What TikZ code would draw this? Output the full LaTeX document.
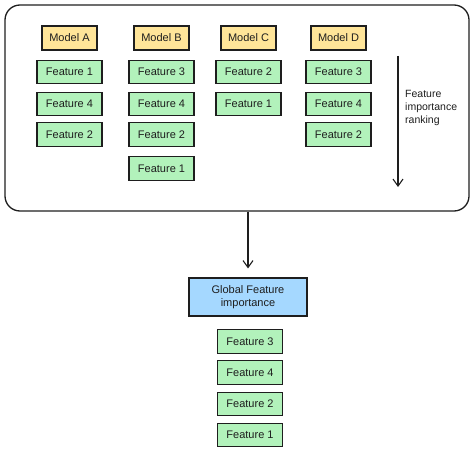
\documentclass[tikz,border=0pt]{standalone}
\usepackage{fontspec}
\setmainfont{Liberation Sans}
\usetikzlibrary{arrows.meta}
\definecolor{ink}{HTML}{1E1E1E}
\definecolor{yel}{HTML}{FFE599}
\definecolor{grn}{HTML}{B2F2BB}
\definecolor{blu}{HTML}{A5D8FF}
\tikzset{
  box/.style={draw=ink, line width=1.1pt, inner sep=0pt, font=\fontsize{11}{12.5}\selectfont, text=ink},
  model/.style={box, fill=yel, minimum width=55pt, minimum height=24pt},
  feat/.style={box, fill=grn, minimum width=65pt, minimum height=23.5pt},
  glob/.style={box, fill=blu, minimum width=118pt, minimum height=38pt, align=center},
  arr/.style={draw=ink, line width=1.1pt, -{Straight Barb[length=7pt,width=10pt,line width=1.1pt]}},
}
\begin{document}
\begin{tikzpicture}[x=1pt,y=-1pt]
\useasboundingbox (0,0) rectangle (474,452);
\node[draw=ink, line width=1.3pt, rounded corners=15pt, minimum width=464pt, minimum height=206pt, inner sep=0pt] (outer) at (237,108) {};
% column A
\node[model] (mA) at (69.5,38) {Model A};
\node[feat] (a1) at (69.5,72) {Feature 1};
\node[feat] (a2) at (69.5,104) {Feature 4};
\node[feat] (a3) at (69.5,134.5) {Feature 2};
% column B
\node[model] (mB) at (161.5,38) {Model B};
\node[feat] (b1) at (161.5,72) {Feature 3};
\node[feat] (b2) at (161.5,104) {Feature 4};
\node[feat] (b3) at (161.5,134.5) {Feature 2};
\node[feat] (b4) at (161.5,168.5) {Feature 1};
% column C
\node[model] (mC) at (248.5,38) {Model C};
\node[feat] (c1) at (248.5,72) {Feature 2};
\node[feat] (c2) at (248.5,104) {Feature 1};
% column D
\node[model] (mD) at (338.5,38) {Model D};
\node[feat] (d1) at (338.5,72) {Feature 3};
\node[feat] (d2) at (338.5,104) {Feature 4};
\node[feat] (d3) at (338.5,134.5) {Feature 2};
% ranking arrow
\coordinate (rtop) at (398,56);
\coordinate (rbot) at (398,187);
\draw[arr] (rtop) -- (rbot);
\node[anchor=west, align=left, inner sep=0pt, font=\fontsize{10.5}{13}\selectfont, text=ink] (rank) at (405,107.5) {Feature\\importance\\ranking};
% global
\node[glob] (g) at (248,297) {Global Feature\\importance};
\draw[arr, shorten >=9pt] (outer.south -| g.north) -- (g.north);
\node[feat] (g1) at (250,341.5) {Feature 3};
\node[feat] (g2) at (250,372.5) {Feature 4};
\node[feat] (g3) at (250,404) {Feature 2};
\node[feat] (g4) at (250,435) {Feature 1};
\end{tikzpicture}
\end{document}
